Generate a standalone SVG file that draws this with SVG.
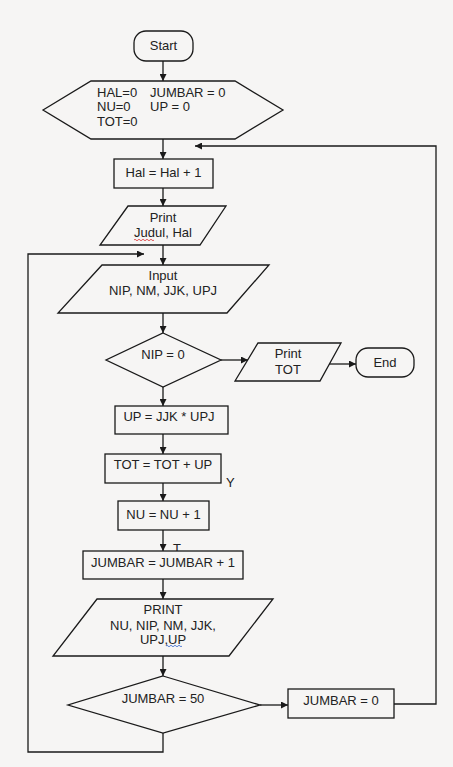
<svg xmlns="http://www.w3.org/2000/svg" width="453" height="767" viewBox="0 0 453 767">
<style>
.s{fill:#f6f5f4;stroke:#1a1a1a;stroke-width:1.3}
.t{font-family:"Liberation Sans",Arial,sans-serif;font-size:13px;fill:#222}
.m{text-anchor:middle}
.c{fill:none;stroke:#1a1a1a;stroke-width:1.3}
</style>
<defs>
<marker id="ah" viewBox="0 0 10 10" refX="10" refY="5" markerWidth="7" markerHeight="7" markerUnits="userSpaceOnUse" orient="auto">
<path d="M0,0 L10,5 L0,10 Z" fill="#1a1a1a"/>
</marker>
</defs>
<rect width="453" height="767" fill="#f6f5f4"/>
<g id="connectors">
<line class="c" x1="163" y1="61" x2="163" y2="81" marker-end="url(#ah)"/>
<line class="c" x1="163" y1="139" x2="163" y2="159" marker-end="url(#ah)"/>
<line class="c" x1="163" y1="188" x2="163" y2="206" marker-end="url(#ah)"/>
<line class="c" x1="163" y1="245" x2="163" y2="265" marker-end="url(#ah)"/>
<line class="c" x1="163" y1="313" x2="163" y2="333" marker-end="url(#ah)"/>
<line class="c" x1="221" y1="360" x2="248" y2="360" marker-end="url(#ah)"/>
<line class="c" x1="329" y1="364" x2="356" y2="364" marker-end="url(#ah)"/>
<line class="c" x1="163" y1="387" x2="163" y2="406" marker-end="url(#ah)"/>
<line class="c" x1="163" y1="434" x2="163" y2="454" marker-end="url(#ah)"/>
<line class="c" x1="163" y1="483" x2="163" y2="501" marker-end="url(#ah)"/>
<line class="c" x1="163" y1="530" x2="163" y2="551" marker-end="url(#ah)"/>
<line class="c" x1="163" y1="579" x2="163" y2="599" marker-end="url(#ah)"/>
<line class="c" x1="163" y1="656" x2="163" y2="676" marker-end="url(#ah)"/>
<line class="c" x1="260" y1="705" x2="288" y2="705" marker-end="url(#ah)"/>
<polyline class="c" points="394,704 436,704 436,146 195,146" marker-end="url(#ah)"/>
<polyline class="c" points="163,733 163,752 28,752 28,254 144,254" marker-end="url(#ah)"/>
</g>
<text class="t" x="173" y="553">T</text>
<text class="t" x="226" y="487">Y</text>
<g id="start">
<rect class="s" x="134" y="31" width="59" height="30" rx="12"/>
<text class="t m" x="163.5" y="50">Start</text>
</g>
<g id="init">
<polygon class="s" points="43,110 91,81 235,81 283,110 235,139 91,139"/>
<text class="t" x="97" y="97">HAL=0</text>
<text class="t" x="150" y="97">JUMBAR = 0</text>
<text class="t" x="97" y="111">NU=0</text>
<text class="t" x="150" y="111">UP = 0</text>
<text class="t" x="97" y="126">TOT=0</text>
</g>
<g id="hal">
<rect class="s" x="114" y="159" width="99" height="29"/>
<text class="t m" x="163.5" y="177">Hal = Hal + 1</text>
</g>
<g id="printjudul">
<polygon class="s" points="128,206 226,206 200,245 100,245"/>
<text class="t m" x="163" y="222">Print</text>
<text class="t m" x="163" y="237">Judul, Hal</text>
<path d="M134,240 q1,-1.5 2,0 t2,0 t2,0 t2,0 t2,0 t2,0 t2,0 t2,0 t2,0 t2,0" fill="none" stroke="#d33" stroke-width="0.8"/>
</g>
<g id="input">
<polygon class="s" points="102,265 269,265 227,313 58,313"/>
<text class="t m" x="163" y="280">Input</text>
<text class="t m" x="163" y="295">NIP, NM, JJK, UPJ</text>
</g>
<g id="nip0">
<polygon class="s" points="163,333 221,360 163,387 106,360"/>
<text class="t m" x="163" y="359">NIP = 0</text>
</g>
<g id="printtot">
<polygon class="s" points="258,343 341,343 320,381 235,381"/>
<text class="t m" x="288" y="358">Print</text>
<text class="t m" x="288" y="374">TOT</text>
</g>
<g id="end">
<rect class="s" x="356" y="348" width="58" height="29" rx="12"/>
<text class="t m" x="385" y="367">End</text>
</g>
<g id="up">
<rect class="s" x="115" y="406" width="113" height="28"/>
<text class="t m" x="169" y="421">UP = JJK * UPJ</text>
</g>
<g id="tot">
<rect class="s" x="105" y="454" width="116" height="29"/>
<text class="t m" x="163" y="469">TOT = TOT + UP</text>
</g>
<g id="nu">
<rect class="s" x="118" y="501" width="91" height="29"/>
<text class="t m" x="163.5" y="519">NU = NU + 1</text>
</g>
<g id="jumbar">
<rect class="s" x="83" y="551" width="160" height="28"/>
<text class="t m" x="163" y="567">JUMBAR = JUMBAR + 1</text>
</g>
<g id="printall">
<polygon class="s" points="97,599 273,599 229,656 53,656"/>
<text class="t m" x="163" y="614">PRINT</text>
<text class="t m" x="163" y="630">NU, NIP, NM, JJK,</text>
<text class="t m" x="163" y="644">UPJ,UP</text>
<path d="M166,646 q1,-1.5 2,0 t2,0 t2,0 t2,0 t2,0 t2,0 t2,0 t2,0" fill="none" stroke="#36c" stroke-width="0.8"/>
</g>
<g id="jumbar50">
<polygon class="s" points="163,676 260,705 163,733 68,705"/>
<text class="t m" x="163" y="703">JUMBAR = 50</text>
</g>
<g id="jumbar0">
<rect class="s" x="288" y="689" width="106" height="29"/>
<text class="t m" x="341" y="705">JUMBAR = 0</text>
</g>
</svg>
